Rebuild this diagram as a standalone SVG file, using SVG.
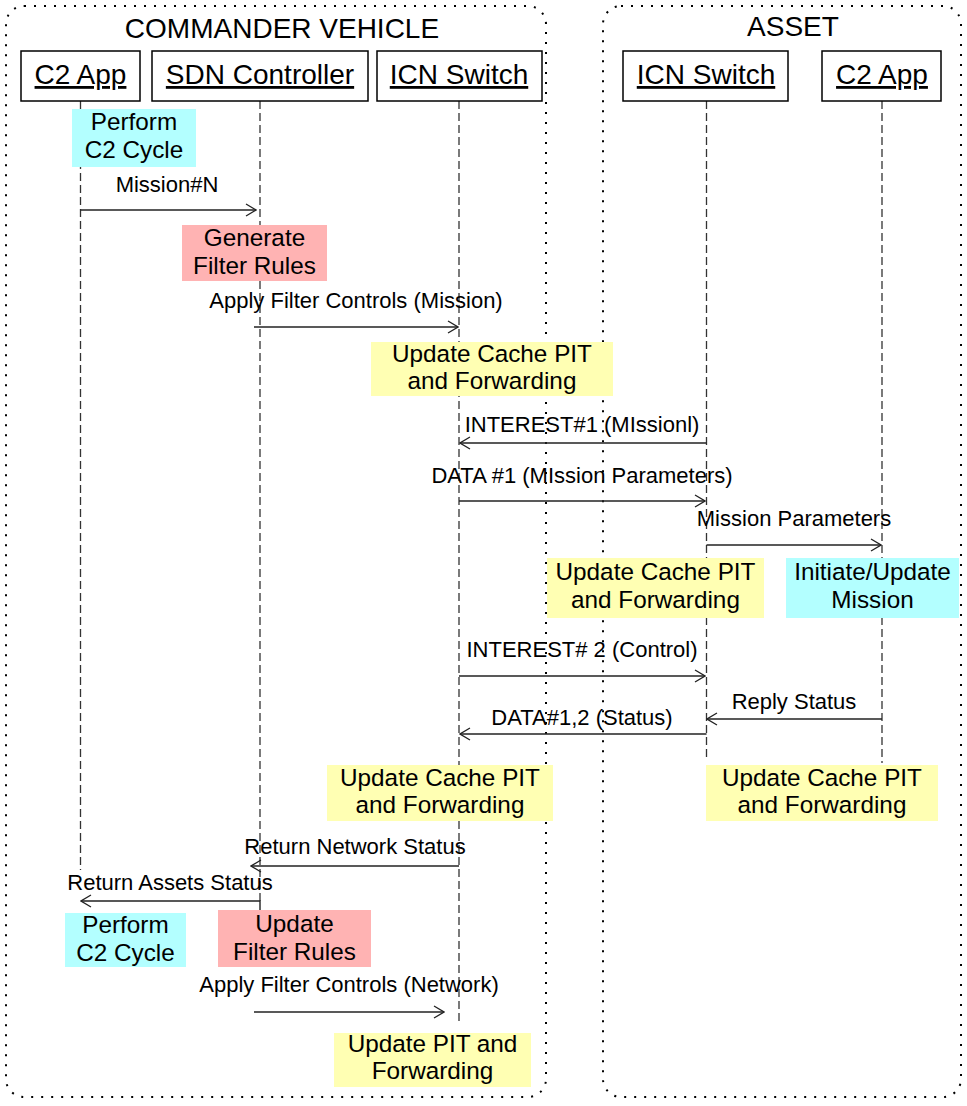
<svg xmlns="http://www.w3.org/2000/svg" width="967" height="1106" viewBox="0 0 967 1106">
<style>
text{font-family:"Liberation Sans",Arial,sans-serif;fill:#000;text-anchor:middle}
.title{font-size:28px}
.head{font-size:28px;text-decoration:underline}
.act{font-size:24.3px}
.lbl{font-size:22px}
.frame{fill:none;stroke:#000;stroke-width:2;stroke-dasharray:2 8}
.hbox{fill:#fff;stroke:#000;stroke-width:1.5}
.life{stroke:#333;stroke-width:1.3;stroke-dasharray:8 4;fill:none}
.msg{stroke:#222;stroke-width:1.4;fill:none}
.cy{fill:#B3FFFF}
.pk{fill:#FFB3B3}
.yl{fill:#FFFFB3}
</style>
<defs>
<marker id="ah" viewBox="0 0 12 14" refX="11" refY="7" markerWidth="12" markerHeight="14" markerUnits="userSpaceOnUse" orient="auto">
<path d="M1,1 L11,7 L1,13" fill="none" stroke="#222" stroke-width="1.3"/>
</marker>
</defs>
<g id="frame-commander">
<rect class="frame" x="6" y="6" width="540" height="1091" rx="18"/>
<text class="title" x="282" y="38">COMMANDER VEHICLE</text>
</g>
<g id="frame-asset">
<rect class="frame" x="603" y="6" width="358" height="1091" rx="18"/>
<text class="title" x="793" y="36">ASSET</text>
</g>
<g id="lifelines">
<line class="life" x1="80.5" y1="101" x2="80.5" y2="870"/>
<line class="life" x1="260" y1="101" x2="260" y2="901"/>
<line class="life" x1="459" y1="101" x2="459" y2="1025"/>
<line class="life" x1="706.5" y1="101" x2="706.5" y2="758"/>
<line class="life" x1="882" y1="101" x2="882" y2="763"/>
</g>
<g id="cv-c2app"><rect class="hbox" x="21" y="51" width="119" height="50"/><text class="head" x="80.5" y="84">C2 App</text></g>
<g id="cv-sdn"><rect class="hbox" x="152" y="51" width="216" height="50"/><text class="head" x="260" y="84">SDN Controller</text></g>
<g id="cv-icn"><rect class="hbox" x="377" y="51" width="165" height="50"/><text class="head" x="459" y="84">ICN Switch</text></g>
<g id="as-icn"><rect class="hbox" x="623" y="51" width="165" height="50"/><text class="head" x="706" y="84">ICN Switch</text></g>
<g id="as-c2app"><rect class="hbox" x="822" y="51" width="119" height="50"/><text class="head" x="882" y="84">C2 App</text></g>

<g id="act-perform1"><rect class="cy" x="72" y="109" width="124" height="58"/><text class="act" x="134" y="130">Perform</text><text class="act" x="134" y="158">C2 Cycle</text></g>
<g id="act-generate"><rect class="pk" x="182" y="225" width="145" height="56"/><text class="act" x="254.5" y="246">Generate</text><text class="act" x="254.5" y="274">Filter Rules</text></g>
<g id="act-update1"><rect class="yl" x="371" y="342" width="242" height="54"/><text class="act" x="492" y="362">Update Cache PIT</text><text class="act" x="492" y="389">and Forwarding</text></g>
<g id="act-update2"><rect class="yl" x="547" y="558" width="217" height="60"/><text class="act" x="655.5" y="580">Update Cache PIT</text><text class="act" x="655.5" y="608">and Forwarding</text></g>
<g id="act-initiate"><rect class="cy" x="786" y="558" width="173" height="60"/><text class="act" x="872.5" y="580">Initiate/Update</text><text class="act" x="872.5" y="608">Mission</text></g>
<g id="act-update3"><rect class="yl" x="327" y="765" width="226" height="56"/><text class="act" x="440" y="786">Update Cache PIT</text><text class="act" x="440" y="813">and Forwarding</text></g>
<g id="act-update4"><rect class="yl" x="706" y="765" width="232" height="56"/><text class="act" x="822" y="786">Update Cache PIT</text><text class="act" x="822" y="813">and Forwarding</text></g>
<g id="act-perform2"><rect class="cy" x="65" y="913" width="121" height="54"/><text class="act" x="125.5" y="933">Perform</text><text class="act" x="125.5" y="961">C2 Cycle</text></g>
<g id="act-updfilter"><rect class="pk" x="218" y="910" width="153" height="57"/><text class="act" x="294.5" y="932">Update</text><text class="act" x="294.5" y="960">Filter Rules</text></g>
<g id="act-update5"><rect class="yl" x="334" y="1033" width="197" height="54"/><text class="act" x="432.5" y="1052">Update PIT and</text><text class="act" x="432.5" y="1079">Forwarding</text></g>

<g id="connectors">
<line class="msg" x1="80.5" y1="210" x2="256" y2="210" marker-end="url(#ah)"/>
<line class="msg" x1="254" y1="327" x2="458" y2="327" marker-end="url(#ah)"/>
<line class="msg" x1="706.5" y1="443" x2="460" y2="443" marker-end="url(#ah)"/>
<line class="msg" x1="459" y1="501" x2="705" y2="501" marker-end="url(#ah)"/>
<line class="msg" x1="706.5" y1="545" x2="881" y2="545" marker-end="url(#ah)"/>
<line class="msg" x1="459" y1="676" x2="705" y2="676" marker-end="url(#ah)"/>
<line class="msg" x1="882" y1="719" x2="707" y2="719" marker-end="url(#ah)"/>
<line class="msg" x1="706.5" y1="734" x2="460" y2="734" marker-end="url(#ah)"/>
<line class="msg" x1="459" y1="866" x2="251" y2="866" marker-end="url(#ah)"/>
<polyline class="msg" points="260,910 260,901 81,901" marker-end="url(#ah)"/>
<line class="msg" x1="254" y1="1012" x2="444" y2="1012" marker-end="url(#ah)"/>
</g>
<g id="labels">
<text class="lbl" x="167" y="192">Mission#N</text>
<text class="lbl" x="356" y="308">Apply Filter Controls (Mission)</text>
<text class="lbl" x="582" y="432">INTEREST#1 (MIssionl)</text>
<text class="lbl" x="582" y="483">DATA #1 (MIssion Parameters)</text>
<text class="lbl" x="794" y="526">Mission Parameters</text>
<text class="lbl" x="582" y="657">INTEREST# 2 (Control)</text>
<text class="lbl" x="794" y="709">Reply Status</text>
<text class="lbl" x="582" y="725">DATA#1,2 (Status)</text>
<text class="lbl" x="355" y="854">Return Network Status</text>
<text class="lbl" x="170" y="890">Return Assets Status</text>
<text class="lbl" x="349" y="992">Apply Filter Controls (Network)</text>
</g>
</svg>
